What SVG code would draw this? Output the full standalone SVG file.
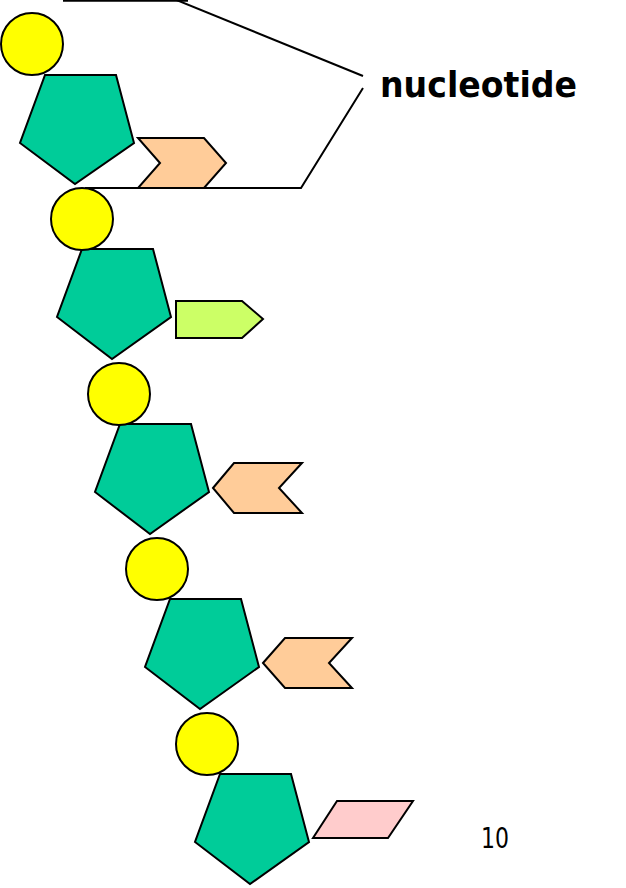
<svg xmlns="http://www.w3.org/2000/svg" width="626" height="888" viewBox="0 0 626 888">
<style>
.ph{fill:#FFFF00;stroke:#000;stroke-width:2}
.sug{fill:#00CC99;stroke:#000;stroke-width:2;stroke-linejoin:miter}
.a{fill:#FFCC99;stroke:#000;stroke-width:2}
.g{fill:#CCFF66;stroke:#000;stroke-width:2}
.c{fill:#FFCCCC;stroke:#000;stroke-width:2}
.ln{fill:none;stroke:#000;stroke-width:2}
.lbl{font-family:"DejaVu Sans","Liberation Sans",sans-serif;font-weight:bold;fill:#000}
.num{font-family:"DejaVu Sans","Liberation Sans",sans-serif;fill:#000}
</style>
<rect width="626" height="888" fill="#fff"/>
<g id="connectors">
<line x1="63" y1="0" x2="188" y2="0" stroke="#000" stroke-width="3.5"/>
<line class="ln" x1="174" y1="-1" x2="363" y2="76"/>
<polyline class="ln" points="363,88 301,188 85,188"/>
</g>
<g id="nucleotide1">
<polygon class="sug" points="45,75 116,75 134,143 75,184 20,143"/>
<circle class="ph" cx="32" cy="44" r="31"/>
<polygon class="a" points="138,138 204,138 226,163 204,188 138,188 160,163"/>
</g>
<g id="nucleotide2">
<polygon class="sug" points="82,249 153,249 171,317 112,359 57,317"/>
<circle class="ph" cx="82" cy="219" r="31"/>
<polygon class="g" points="176,301 242,301 263,319 242,338 176,338"/>
</g>
<g id="nucleotide3">
<polygon class="sug" points="120,424 191,424 209,492 150,534 95,492"/>
<circle class="ph" cx="119" cy="394" r="31"/>
<polygon class="a" points="213,488 234,463 302,463 279,488 302,513 234,513"/>
</g>
<g id="nucleotide4">
<polygon class="sug" points="170,599 241,599 259,667 200,709 145,667"/>
<circle class="ph" cx="157" cy="569" r="31"/>
<polygon class="a" points="263,663 285,638 352,638 329,663 352,688 285,688"/>
</g>
<g id="nucleotide5">
<polygon class="sug" points="220,774 291,774 309,842 250,884 195,842"/>
<circle class="ph" cx="207" cy="744" r="31"/>
<polygon class="c" points="337,801 413,801 388,838 313,838"/>
</g>
<g id="label">
<text class="lbl" x="380" y="97" font-size="35" textLength="197" lengthAdjust="spacingAndGlyphs">nucleotide</text>
</g>
<text class="num" x="481" y="848" font-size="28" textLength="28" lengthAdjust="spacingAndGlyphs">10</text>
</svg>
